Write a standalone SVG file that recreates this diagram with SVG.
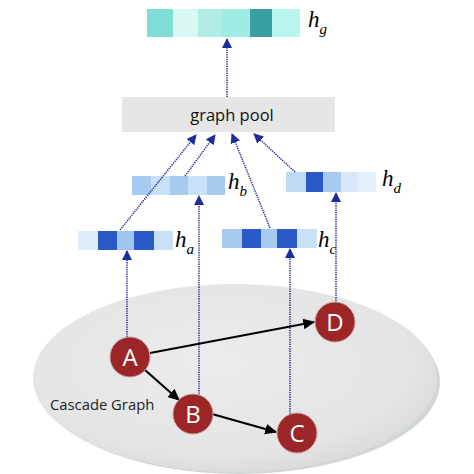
<svg xmlns="http://www.w3.org/2000/svg" width="474" height="474" viewBox="0 0 474 474">
<style>
.dot{stroke:#1f2f98;stroke-width:1.5;stroke-dasharray:1.3 1;fill:none}
.edge{stroke:#000;stroke-width:2.2;fill:none}
.node circle{fill:#9c2527;stroke:#c8a0a0;stroke-width:1}
.node text{font-family:"Open Sans","DejaVu Sans",sans-serif;font-size:24px;fill:#fff;text-anchor:middle}
.lab{font-family:"Liberation Serif",serif;font-style:italic;font-size:23px;fill:#000}
.sub{font-size:15px}
.L1{fill:#a6cbef}.L2{fill:#c9e1f8}.L3{fill:#deedfa}.D{fill:#2b59c6}
</style>
<defs>
<marker id="ab" viewBox="0 0 10 10" refX="9" refY="5" markerWidth="10" markerHeight="10" markerUnits="userSpaceOnUse" orient="auto"><path d="M0,0L10,5L0,10z" fill="#1c2c9c"/></marker>
<marker id="ak" viewBox="0 0 10 10" refX="9" refY="5" markerWidth="12" markerHeight="12" markerUnits="userSpaceOnUse" orient="auto"><path d="M0,0.5L10,5L0,9.5z" fill="#000"/></marker>
<radialGradient id="eg" cx="0.45" cy="0.42" r="0.58"><stop offset="0" stop-color="#ececec"/><stop offset="0.85" stop-color="#e4e4e4"/><stop offset="1" stop-color="#dcdcdc"/></radialGradient>
</defs>
<rect width="474" height="474" fill="#fff"/>
<g id="graph-area">
<ellipse cx="239" cy="382" rx="201" ry="92" fill="#c2c8c8" opacity="0.75"/>
<ellipse cx="235" cy="378" rx="202" ry="94" fill="url(#eg)"/>
<text x="50" y="410" font-family="Open Sans, DejaVu Sans, sans-serif" font-size="14.8" fill="#222">Cascade Graph</text>
</g>
<g id="hg">
<rect x="147" y="9" width="26" height="28" fill="#80ddd5"/>
<rect x="173" y="9" width="25" height="28" fill="#d9f8f4"/>
<rect x="198" y="9" width="24" height="28" fill="#b2ede5"/>
<rect x="222" y="9" width="28" height="28" fill="#a0ebe3"/>
<rect x="250" y="9" width="22" height="28" fill="#3a9fa0"/>
<rect x="272" y="9" width="28" height="28" fill="#baf5ed"/>
<text class="lab" x="308" y="27">h<tspan class="sub" dx="0" dy="7">g</tspan></text>
</g>
<g id="graph-pool">
<rect x="122" y="97" width="213" height="35" fill="#e6e6e6"/>
<text x="232" y="121" font-family="Open Sans, DejaVu Sans, sans-serif" font-size="16.5" fill="#111" text-anchor="middle">graph pool</text>
</g>
<g id="hb">
<rect class="L1" x="132" y="176" width="19" height="19"/>
<rect class="L2" x="151" y="176" width="19" height="19"/>
<rect class="L1" x="170" y="176" width="18" height="19"/>
<rect class="L2" x="188" y="176" width="19" height="19"/>
<rect class="L1" x="207" y="176" width="18" height="19"/>
<text class="lab" x="228" y="189">h<tspan class="sub" dy="7">b</tspan></text>
</g>
<g id="hd">
<rect fill="#bfdbf4" x="286" y="172" width="20" height="20"/>
<rect class="D" x="306" y="172" width="17" height="20"/>
<rect class="L1" x="323" y="172" width="18" height="20"/>
<rect fill="#d8e8f8" x="341" y="172" width="17" height="20"/>
<rect fill="#e3effa" x="358" y="172" width="18" height="20"/>
<text class="lab" x="382" y="186">h<tspan class="sub" dy="7">d</tspan></text>
</g>
<g id="ha">
<rect class="L3" x="78" y="231" width="20" height="19"/>
<rect class="D" x="98" y="231" width="19" height="19"/>
<rect fill="#9ec6ef" x="117" y="231" width="17" height="19"/>
<rect class="D" x="134" y="231" width="20" height="19"/>
<rect class="L2" x="154" y="231" width="19" height="19"/>
<text class="lab" x="175" y="247">h<tspan class="sub" dy="7">a</tspan></text>
</g>
<g id="hc">
<rect class="L1" x="222" y="229" width="20" height="19"/>
<rect class="D" x="242" y="229" width="19" height="19"/>
<rect class="L1" x="261" y="229" width="16" height="19"/>
<rect class="D" x="277" y="229" width="20" height="19"/>
<rect class="L2" x="297" y="229" width="20" height="19"/>
<text class="lab" x="318" y="247">h<tspan class="sub" dy="7">c</tspan></text>
</g>
<g id="connectors">
<line class="dot" x1="227" y1="97" x2="227" y2="39" marker-end="url(#ab)"/>
<line class="dot" x1="120" y1="230" x2="196" y2="135" marker-end="url(#ab)"/>
<line class="dot" x1="185" y1="176" x2="215" y2="135" marker-end="url(#ab)"/>
<line class="dot" x1="270" y1="228" x2="232" y2="134" marker-end="url(#ab)"/>
<line class="dot" x1="295" y1="172" x2="254" y2="134" marker-end="url(#ab)"/>
<line class="dot" x1="127" y1="337" x2="127" y2="251" marker-end="url(#ab)"/>
<line class="dot" x1="199" y1="396" x2="199" y2="196" marker-end="url(#ab)"/>
<line class="dot" x1="290" y1="414" x2="290" y2="249" marker-end="url(#ab)"/>
<line class="dot" x1="336" y1="303" x2="336" y2="193" marker-end="url(#ab)"/>
<line class="edge" x1="150" y1="353" x2="314" y2="322" marker-end="url(#ak)"/>
<line class="edge" x1="145" y1="370" x2="179" y2="400" marker-end="url(#ak)"/>
<line class="edge" x1="212" y1="414" x2="276" y2="432" marker-end="url(#ak)"/>
</g>
<g id="node-A" class="node"><circle cx="130" cy="357" r="20"/><text x="130" y="365.5">A</text></g>
<g id="node-B" class="node"><circle cx="193" cy="414" r="20"/><text x="193" y="422.5">B</text></g>
<g id="node-C" class="node"><circle cx="297" cy="433" r="20"/><text x="297" y="441.5">C</text></g>
<g id="node-D" class="node"><circle cx="335" cy="322" r="20"/><text x="335" y="330.5">D</text></g>
</svg>
